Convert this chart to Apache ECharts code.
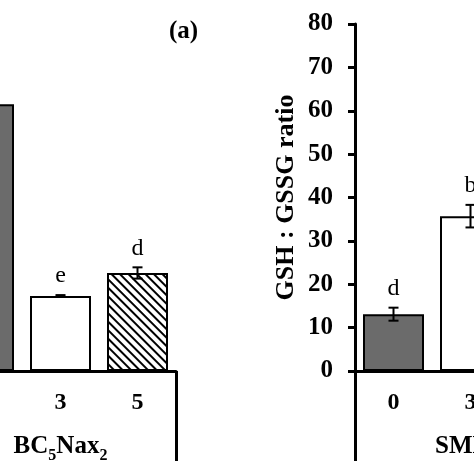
<!DOCTYPE html>
<html>
<head>
<meta charset="utf-8">
<script src="https://cdn.jsdelivr.net/npm/echarts@6/dist/echarts.min.js"></script>
<style>
html, body { margin: 0; padding: 0; background: #fff; }
#main { width: 474px; height: 474px; }
</style>
</head>
<body>
<div id="main"></div>
<script>
var myChart = echarts.init(document.getElementById('main'));

// doses on both panels
var doses = ['0', '3', '5'];

// left panel (BC5Nax2), same 0-80 scale assumed
var ratioBC = [61.5, 17.3, 22.6];
var errBC = [1.5, 0.2, 1.3];
var letterBC = ['a', 'e', 'd'];

// right panel (SMNP)
var ratioSM = [13.1, 35.7, 48.0];
var errSM = [1.5, 2.6, 2.0];
var letterSM = ['d', 'b', 'a'];

var serif = '"Liberation Serif", "Times New Roman", serif';

function barItems(values) {
    return values.map(function (v, i) {
        var style = { color: i === 0 ? '#6b6b6b' : '#ffffff', borderColor: '#000', borderWidth: 2 };
        if (i === 2) {
            style.decal = {
                symbol: 'rect',
                symbolSize: 1,
                color: '#000',
                backgroundColor: '#fff',
                dashArrayX: [1, 0],
                dashArrayY: [1.2, 3.6],
                rotation: Math.PI / 4
            };
        }
        return { value: v, itemStyle: style };
    });
}

function errorBars(means, errs, letters) {
    return function (params, api) {
        var i = params.dataIndex;
        var x = api.coord([i, 0])[0];
        var top = api.coord([i, means[i] + errs[i]])[1];
        var bot = api.coord([i, means[i] - errs[i]])[1];
        var cap = 5;
        var st = { stroke: '#000', lineWidth: 2 };
        return {
            type: 'group',
            children: [
                { type: 'line', shape: { x1: x, y1: top, x2: x, y2: bot }, style: st },
                { type: 'line', shape: { x1: x - cap, y1: top, x2: x + cap, y2: top }, style: st },
                { type: 'line', shape: { x1: x - cap, y1: bot, x2: x + cap, y2: bot }, style: st },
                {
                    type: 'text',
                    x: x,
                    y: top - 7,
                    style: {
                        text: letters[i],
                        fill: '#000',
                        font: '24px ' + serif,
                        textAlign: 'center',
                        textVerticalAlign: 'bottom'
                    }
                }
            ]
        };
    };
}

function catAxis(gridIndex, name, rich) {
    return {
        type: 'category',
        gridIndex: gridIndex,
        data: doses,
        axisLine: { lineStyle: { color: '#000', width: 3 } },
        // only the outer edges of the group get the long Excel-style divider
        axisTick: {
            show: true,
            interval: 100,
            length: 90,
            lineStyle: { color: '#000', width: 3 }
        },
        axisLabel: { color: '#000', fontFamily: serif, fontWeight: 'bold', fontSize: 24, margin: 20 },
        name: name,
        nameLocation: 'middle',
        nameGap: 63,
        nameTextStyle: { color: '#000', fontFamily: serif, fontWeight: 'bold', fontSize: 25, rich: rich }
    };
}

var option = {
    backgroundColor: '#fff',
    animation: false,
    title: {
        text: '(a)',
        left: 164,
        top: 14,
        textStyle: { color: '#000', fontFamily: serif, fontWeight: 'bold', fontSize: 25 }
    },
    grid: [
        { left: -55, top: 24, width: 231, height: 347, containLabel: false, outerBoundsMode: 'none' },
        { left: 355, top: 24, width: 231, height: 347, containLabel: false, outerBoundsMode: 'none' }
    ],
    xAxis: [
        catAxis(0, '{b|BC}{s|5}{b|Nax}{s|2}', {
            b: { fontFamily: serif, fontWeight: 'bold', fontSize: 25, lineHeight: 30, verticalAlign: 'top', color: '#000' },
            s: { fontFamily: serif, fontWeight: 'bold', fontSize: 16, lineHeight: 16, verticalAlign: 'bottom', color: '#000' }
        }),
        catAxis(1, 'SMNP')
    ],
    yAxis: [
        { type: 'value', gridIndex: 0, min: 0, max: 80, interval: 10, show: false },
        {
            type: 'value',
            gridIndex: 1,
            min: 0,
            max: 80,
            interval: 10,
            axisLine: { show: true, lineStyle: { color: '#000', width: 3 } },
            axisTick: { show: true, length: 7, lineStyle: { color: '#000', width: 3 } },
            axisLabel: { color: '#000', fontFamily: serif, fontWeight: 'bold', fontSize: 25, margin: 22 },
            splitLine: { show: false },
            name: 'GSH : GSSG ratio',
            nameLocation: 'middle',
            nameGap: 56,
            nameTextStyle: { color: '#000', fontFamily: serif, fontWeight: 'bold', fontSize: 26 }
        }
    ],
    series: [
        { type: 'bar', xAxisIndex: 0, yAxisIndex: 0, barWidth: 61, data: barItems(ratioBC) },
        { type: 'bar', xAxisIndex: 1, yAxisIndex: 1, barWidth: 61, data: barItems(ratioSM) },
        {
            type: 'custom', xAxisIndex: 0, yAxisIndex: 0, z: 5,
            renderItem: errorBars(ratioBC, errBC, letterBC),
            data: ratioBC.map(function (v, i) { return [i, v]; })
        },
        {
            type: 'custom', xAxisIndex: 1, yAxisIndex: 1, z: 5,
            renderItem: errorBars(ratioSM, errSM, letterSM),
            data: ratioSM.map(function (v, i) { return [i, v]; })
        }
    ]
};
myChart.setOption(option);
</script>
</body>
</html>
